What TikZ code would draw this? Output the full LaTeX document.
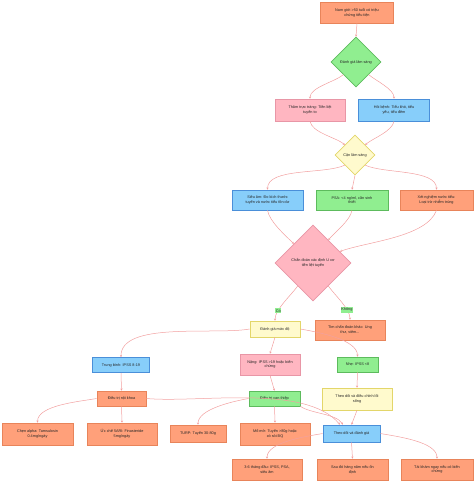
\documentclass[tikz,border=0pt]{standalone}
\usepackage{fontspec}
\setmainfont{Liberation Sans}
\usetikzlibrary{shapes.geometric,arrows.meta,calc}
\definecolor{ofill}{HTML}{FFA07A}\definecolor{odraw}{HTML}{E8845A}
\definecolor{gfill}{HTML}{90EE90}\definecolor{gdraw}{HTML}{5DBB5D}
\definecolor{pfill}{HTML}{FFB6C1}\definecolor{pdraw}{HTML}{E896A6}
\definecolor{bfill}{HTML}{87CEFA}\definecolor{bdraw}{HTML}{4A8FD9}
\definecolor{yfill}{HTML}{FFFACD}\definecolor{ydraw}{HTML}{E3D66A}
\definecolor{edge}{HTML}{F2A0A0}
\tikzset{
  base/.style={draw, line width=0.6pt, inner sep=0.5pt, align=center,
    font=\fontsize{3.8}{4.8}\selectfont, text=black!85},
  obox/.style={base, fill=ofill, draw=odraw},
  gbox/.style={base, fill=gfill, draw=gdraw},
  pbox/.style={base, fill=pfill, draw=pdraw},
  bbox/.style={base, fill=bfill, draw=bdraw},
  ybox/.style={base, fill=yfill, draw=ydraw},
  dia/.style={shape=diamond, aspect=1},
  lbl/.style={fill=gfill, inner sep=0.8pt, font=\fontsize{3.8}{4}\selectfont, text=black!85},
  conn/.style={draw=edge, line width=0.5pt, looseness=0.7, -{Stealth[length=2.2pt,width=2.2pt]}}
}
\begin{document}
\begin{tikzpicture}[x=1pt,y=-1pt]
\useasboundingbox (0,0) rectangle (474,482);
% nodes
\node[obox, minimum width=73pt, minimum height=21pt] (n1) at (357,12.5) {Nam giới >50 tuổi có triệu\\chứng tiểu tiện};
\node[gbox, dia, minimum width=50pt, minimum height=50pt] (d1) at (356,62) {Đánh giá lâm sàng};
\node[pbox, minimum width=70pt, minimum height=22pt] (n3) at (310,110) {Thăm trực tràng: Tiền liệt\\tuyến to};
\node[bbox, minimum width=71pt, minimum height=22pt] (n4) at (394,110) {Hỏi bệnh: Tiểu khó, tiểu\\yếu, tiểu đêm};
\node[ybox, dia, minimum width=40pt, minimum height=40pt] (d2) at (355,155) {Cận lâm sàng};
\node[bbox, minimum width=71pt, minimum height=20pt] (n6) at (267.5,200) {Siêu âm: Đo kích thước\\tuyến và nước tiểu tồn dư};
\node[gbox, minimum width=72pt, minimum height=20pt] (n7) at (352,200) {PSA: <4 ng/ml, cần sinh\\thiết};
\node[obox, minimum width=73pt, minimum height=20pt] (n8) at (436.5,200) {Xét nghiệm nước tiểu:\\Loại trừ nhiễm trùng};
\node[pbox, dia, minimum width=76pt, minimum height=76pt] (d3) at (313,263) {Chẩn đoán xác định U xơ\\tiền liệt tuyến};
\node[ybox, minimum width=50pt, minimum height=16pt] (n11) at (275,329) {Đánh giá mức độ};
\node[obox, minimum width=70pt, minimum height=20pt] (n12) at (350,330) {Tìm chẩn đoán khác: Ung\\thư, viêm...};
\node[bbox, minimum width=57pt, minimum height=15pt] (n13) at (121,365) {Trung bình: IPSS 8-19};
\node[pbox, minimum width=60pt, minimum height=21pt] (n14) at (270,364.5) {Nặng: IPSS >19 hoặc biến\\chứng};
\node[gbox, minimum width=41pt, minimum height=15pt] (n15) at (357.5,364.5) {Nhẹ: IPSS <8};
\node[obox, minimum width=49pt, minimum height=15pt] (n16) at (121.5,398.5) {Điều trị nội khoa};
\node[gbox, minimum width=51pt, minimum height=15pt] (n17) at (274.5,398.5) {Điều trị can thiệp};
\node[ybox, minimum width=70pt, minimum height=22pt] (n18) at (357,399) {Theo dõi và điều chỉnh lối\\sống};
\node[obox, minimum width=71pt, minimum height=22pt] (n19) at (37.5,434) {Chẹn alpha: Tamsulosin\\0.4mg/ngày};
\node[obox, minimum width=70pt, minimum height=22pt] (n20) at (122,434) {Ức chế 5ARI: Finasteride\\5mg/ngày};
\node[obox, minimum width=56pt, minimum height=17pt] (n21) at (198,433.5) {TURP: Tuyến 30-80g};
\node[obox, minimum width=70pt, minimum height=22pt] (n22) at (275,434) {Mổ mở: Tuyến >80g hoặc\\có sỏi BQ};
\node[bbox, minimum width=57pt, minimum height=17pt] (n23) at (351.5,433.5) {Theo dõi và đánh giá};
\node[obox, minimum width=70pt, minimum height=21pt] (n24) at (267,469.5) {3-6 tháng đầu: IPSS, PSA,\\siêu âm};
\node[obox, minimum width=71pt, minimum height=21pt] (n25) at (352.5,469.5) {Sau đó hàng năm nếu ổn\\định};
\node[obox, minimum width=72pt, minimum height=21pt] (n26) at (437,469.5) {Tái khám ngay nếu có biến\\chứng};
% edges
\draw[conn] (n1.south) -- (d1.north);
\draw[conn] ($(d1.west)!0.5!(d1.south)$) to[out=-140,in=90] (n3.north);
\draw[conn] ($(d1.east)!0.5!(d1.south)$) to[out=-40,in=90] (n4.north);
\draw[conn] (n3.south) to[out=-80,in=140] ($(d2.west)!0.5!(d2.north)$);
\draw[conn] (n4.south) to[out=-100,in=40] ($(d2.east)!0.5!(d2.north)$);
\draw[conn] ($(d2.west)!0.5!(d2.south)$) to[out=-155,in=90] (n6.north);
\draw[conn] (d2.south) -- (n7.north);
\draw[conn] ($(d2.east)!0.5!(d2.south)$) to[out=-25,in=90] (n8.north);
\draw[conn] (n6.south) to[out=-80,in=135] ($(d3.west)!0.5!(d3.north)$);
\draw[conn] (n7.south) to[out=-100,in=50] ($(d3.east)!0.6!(d3.north)$);
\draw[conn] (n8.south) to[out=-110,in=20] ($(d3.east)!0.3!(d3.north)$);
\draw[conn] ($(d3.west)!0.6!(d3.south)$) to[out=-125,in=90] node[lbl, pos=0.72] {Có} (n11.north);
\draw[conn] ($(d3.east)!0.6!(d3.south)$) to[out=-55,in=90] node[lbl, pos=0.72] {Không} (n12.north);
\draw[conn] (n11.west) to[out=190,in=90] (n13.north);
\draw[conn] (n11.south) -- (n14.north);
\draw[conn] (n11.east) to[out=-10,in=90] (n15.north);
\draw[conn] (n13.south) -- (n16.north);
\draw[conn] (n14.south) -- (n17.north);
\draw[conn] (n15.south) -- (n18.north);
\draw[conn] (n16.west) to[out=190,in=90] (n19.north);
\draw[conn] (n16.south) -- (n20.north);
\draw[conn] (n16.east) to[out=-5,in=130] ($(n23.north)!0.4!(n23.north west)$);
\draw[conn] (n17.west) to[out=190,in=90] (n21.north);
\draw[conn] (n17.south) -- (n22.north);
\draw[conn] (n17.south east) to[out=-35,in=120] ($(n23.north)!0.3!(n23.north west)$);
\draw[conn] (n18.south) -- (n23.north);
\draw[conn] (n23.west) to[out=190,in=90] (n24.north);
\draw[conn] (n23.south) -- (n25.north);
\draw[conn] (n23.east) to[out=-10,in=90] (n26.north);
\end{tikzpicture}
\end{document}
